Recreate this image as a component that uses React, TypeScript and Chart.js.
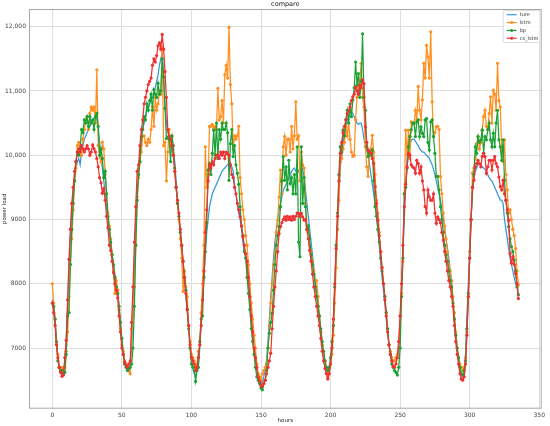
import { useEffect, useRef } from "react";
import { Chart, registerables } from "chart.js";

Chart.register(...registerables);

// ---- data (one value per half-hour step, 7 days x 48) ----
const ture = [
  7750,7600,7400,7100,6850,6700,6650,6600,6620,6800,7150,7650,8200,8750,9150,9450,9650,9800,9900,9950,9850,10050,10150,10250,10300,10350,10400,10450,10500,10550,10580,10600,10550,10400,10200,10000,9800,9600,9400,9200,9000,8800,8600,8450,8300,8150,8000,7850,
  7650,7350,7100,6950,6800,6700,6650,6630,6700,7000,7600,8300,9000,9400,9750,10000,10250,10400,10500,10600,10700,10750,10800,10850,10900,10950,11050,11150,11250,11400,11500,11600,11200,10800,10500,10350,10300,10250,10200,10050,9900,9600,9300,9050,8800,8550,8300,8050,
  7800,7550,7300,7050,6850,6700,6600,6580,6650,6750,7000,7500,7800,8100,8500,8800,9000,9200,9300,9400,9450,9500,9550,9600,9650,9700,9750,9780,9800,9830,9850,9870,9880,9820,9750,9550,9400,9250,9100,9000,8850,8650,8500,8450,8250,8000,7700,7400,
  7150,6950,6800,6650,6550,6480,6450,6480,6550,6700,6800,7100,7450,7800,8100,8400,8650,8850,9000,9150,9250,9350,9450,9500,9550,9600,9650,9700,9750,9780,9800,9750,9720,9750,9800,9820,9780,9650,9450,9250,9050,8850,8650,8450,8250,8050,7850,7650,
  7400,7200,7000,6850,6750,6650,6620,6650,6750,6950,7400,7900,8400,8900,9350,9800,10050,10200,10350,10450,10550,10600,10650,10680,10650,10600,10550,10500,10480,10500,10500,10400,10250,10150,10100,10000,9850,9700,9550,9400,9250,9050,8850,8600,8350,8100,7900,7700,
  7450,7250,7050,6950,6850,6800,6800,6820,6850,6950,7400,7950,8500,9000,9500,9950,10100,10180,10230,10250,10250,10220,10180,10150,10100,10080,10050,10050,10020,10000,9980,9950,9900,9850,9780,9700,9600,9500,9400,9300,9150,9000,8850,8700,8550,8400,8200,8000,
  7700,7400,7150,6950,6800,6650,6580,6550,6580,6900,7500,8000,8600,9050,9400,9650,9750,9800,9850,9870,9850,9820,9800,9780,9750,9700,9650,9620,9600,9550,9500,9450,9400,9350,9300,9300,9250,9000,8850,8700,8550,8400,8300,8200,8100,8000,7950,7900,
];

const lstm = [
  8000,7700,7450,7050,6900,6700,6650,6700,6650,6700,6950,7250,7800,8300,8700,9150,9600,9800,10150,10200,10100,10000,10250,10400,10550,10600,10400,10650,10750,10700,10750,10500,11330,10150,10050,9900,10200,10100,9700,9400,9100,8900,8700,8450,8200,7850,8050,7900,
  7600,7300,7050,6950,6800,6750,6700,6650,6600,7300,7500,7950,8600,9350,9650,9900,10050,10300,10300,10200,10150,10250,10200,10400,10750,10450,10900,10700,10800,11000,10950,11680,10150,10200,9600,10050,10400,10150,10300,10000,9750,9500,9250,9000,8700,8400,7880,8200,
  7950,7800,7350,7100,6900,6850,6800,6700,6750,6950,7050,7550,8000,8600,10130,9500,9700,10450,10450,10480,10420,10450,10400,11040,10550,10600,10850,10500,11250,11400,11200,11990,11100,10800,10100,10300,10250,10300,10450,9650,9400,9150,9000,8750,8600,8300,8000,7700,
  7450,7200,7000,6750,6600,6550,6500,6600,6650,6700,6750,7000,7350,7700,8000,8300,8470,8800,8990,9350,9770,9400,10130,10290,10000,10250,10250,10050,10450,10100,10300,10830,10250,10300,9600,10050,9850,9800,9250,8900,8800,8600,8500,8350,8200,8050,8050,7800,
  7500,7250,7050,6900,6800,6700,6550,6600,6750,6900,7200,7700,8250,8850,9300,9900,9950,10100,10200,10450,10300,10500,10250,10050,9980,10000,10550,10900,11050,11170,11430,10900,10750,10130,9820,9670,10050,10100,10310,10050,9700,9300,9100,8800,8500,8250,8000,7800,
  7550,7300,7050,6950,6850,6800,6800,6850,6900,7100,7500,7850,8350,9400,10390,10000,10390,9950,10520,10500,10490,10700,10550,11070,10700,10550,10860,11430,11200,11710,11530,11200,11920,10830,10290,10350,10440,10450,10400,9670,9400,9100,8900,8700,8500,8300,8200,8050,
  7800,7550,7250,7000,6850,6750,6700,6650,6700,6850,7250,7800,8500,9000,9720,9800,9950,10180,10290,10100,10200,10390,10600,10700,10450,10400,10650,10910,10500,11010,10950,10700,11430,10850,10750,10080,9900,10240,9700,9460,9100,9150,9000,8850,8750,8550,8200,7980,
];

const bp = [
  7700,7650,7450,7100,6800,6700,6650,6650,6600,6620,6900,7500,7550,8300,8850,9250,9600,9900,10050,10000,10100,10400,10350,10550,10500,10600,10450,10600,10500,10550,10400,10600,10650,10450,10000,10100,9950,9650,9750,9400,9050,8850,8650,8450,8300,8100,7950,7850,
  7650,7400,7150,6900,6750,6700,6650,6680,6700,6750,7000,7650,8600,9300,9700,9900,10290,10400,10600,10550,10800,10700,10850,10950,10700,11020,10950,10900,11120,10950,11000,11500,11220,10730,10260,10280,10250,9900,10300,10150,9800,9500,9250,9050,8800,8600,8350,8100,
  7900,7600,7300,7000,6750,6700,6650,6480,6650,6700,7100,7450,7500,8100,8500,8950,9770,9870,9700,10030,10390,10000,10500,9950,10400,10250,10500,10400,10400,10500,10350,9610,10180,10400,9980,10150,9850,9720,9550,9200,8900,8750,8500,8400,8100,7850,7600,7300,
  7100,6900,6700,6550,6500,6450,6380,6350,6450,6500,6650,7000,7230,7400,7540,7900,8300,8600,8750,8890,9200,9600,9980,9610,9820,9460,9920,9560,9650,9400,9700,9400,10130,8650,8420,10130,9250,9650,9200,8850,8900,8700,8450,8300,8150,7950,7800,7650,
  7500,7300,7100,6950,6800,6700,6650,6700,6850,7100,7350,7950,8600,9100,9700,10130,10050,10390,10300,10550,10700,10500,10800,10600,10860,11050,11450,11090,11270,10900,11150,11890,10900,10700,10130,9980,10050,10000,10080,9600,9200,9050,8850,8650,8400,8200,8000,7800,
  7550,7300,7050,6900,6750,6700,6650,6620,6580,6700,7000,7800,8400,9400,9500,9800,10130,10290,10400,10500,10500,10290,10520,10550,10290,10440,10340,10290,10550,10570,10200,10080,10520,10550,10290,10030,9670,9670,9460,9200,9000,8800,8600,8450,8350,8200,8050,7950,
  7700,7450,7200,7000,6850,6700,6600,6580,6650,6800,7300,7850,8400,9000,9500,9700,10130,10030,10290,10200,10240,10390,10030,10290,10240,10400,10500,10240,10130,10340,10130,10500,10700,10240,10130,9920,10240,9610,9300,9100,8890,8700,8580,8500,8370,8200,7950,7830,
];

const csLstm = [
  7700,7550,7350,7050,6850,6700,6620,6560,6580,6850,7120,7750,8380,8850,9250,9500,9750,9900,10050,10100,10050,10150,10100,10050,10100,10150,10100,10000,10050,10160,10100,10050,9950,9820,9650,9570,9410,9480,9300,9050,8870,8600,8520,8350,8170,8000,7900,7780,
  7500,7250,7000,6900,6780,6730,6700,6750,6800,7400,7950,8650,9200,9750,9850,10150,10400,10550,10800,10900,11000,11100,11150,11200,11400,11500,11450,11550,11700,11750,11650,11880,11650,11300,10900,10400,10300,10250,10150,10000,9750,9500,9300,9100,8850,8600,8350,8100,
  7850,7600,7350,7050,6850,6800,6750,6650,6700,6850,7050,7350,7750,8200,8800,9150,9600,9850,9800,9900,9850,9950,10000,10000,9950,10050,10000,10050,9950,10050,10020,10000,9850,9700,9650,9500,9400,9250,9150,9040,8900,8730,8600,8470,8350,8100,7800,7500,
  7250,7000,6850,6700,6550,6480,6420,6400,6450,6500,6600,6700,6800,6920,7300,7650,7950,8200,8500,8780,8890,8950,9000,9040,8990,9050,9000,9040,8990,9050,9000,9050,9100,9095,9050,9095,9040,8990,9000,8840,8700,8520,8350,8150,7950,7800,7650,7500,
  7350,7150,6950,6800,6680,6600,6520,6600,6750,7000,7450,8000,8550,9050,9600,10030,10200,10350,10450,10550,10650,10700,10750,10850,10910,10950,11060,11000,10950,11090,11050,11170,11115,10440,10200,10080,10060,10030,9950,9870,9510,9250,8990,8750,8500,8250,8000,7750,
  7500,7250,7050,6900,6800,6720,6700,6750,6850,7100,7500,8000,8600,9200,9550,9820,10030,10000,9850,9820,9800,9720,9920,9870,9720,9820,9600,9460,9200,9100,9460,9350,9300,9300,9400,9100,8940,9040,9000,8950,8800,8680,8500,8350,8200,8050,7950,7800,
  7650,7350,7100,6900,6750,6600,6520,6500,6550,6750,7200,7800,8400,9000,9500,9610,9820,9870,9920,9870,9820,9980,10030,9980,9720,9820,9920,9920,9770,9920,9980,9870,9820,9660,9510,9460,9610,9400,9300,9150,8990,8470,8320,8420,8300,8160,8000,7770,
];

const xTicks = [0, 50, 100, 150, 200, 250, 300, 350];
const yTicks = [7000, 8000, 9000, 10000, 11000, 12000];
const seriesNames = ["ture", "lstm", "bp", "cs_lstm"];
const seriesColors = ["#3399d9", "#ff8f1f", "#1ba234", "#ef3131"];
const chartTitle = "compare";
const xTitle = "hours";
const yTitle = "power load";

const FONT = "DejaVu Sans";

export default function App() {
  const ref = useRef<HTMLCanvasElement | null>(null);

  useEffect(() => {
    document.body.style.margin = "0";
    const canvas = ref.current;
    if (!canvas) return;

    const toPts = (arr: number[]) => arr.map((y, i) => ({ x: i, y }));
    const series = [ture, lstm, bp, csLstm];

    const overlay = {
      id: "overlay",
      afterDraw(chart: any) {
        const { ctx, chartArea: a } = chart;
        ctx.save();
        // frame
        ctx.strokeStyle = "#a8a8a8";
        ctx.lineWidth = 1;
        ctx.strokeRect(a.left + 0.5, a.top + 0.5, a.right - a.left - 1, a.bottom - a.top - 1);
        // titles
        ctx.fillStyle = "#222";
        ctx.textAlign = "center";
        ctx.textBaseline = "middle";
        const cx = (a.left + a.right) / 2;
        ctx.font = `6.5px "${FONT}"`;
        ctx.fillText(chartTitle, cx, 4.6);
        ctx.font = `5.5px "${FONT}"`;
        ctx.fillText(xTitle, cx, 420.5);
        ctx.save();
        ctx.translate(4.3, (a.top + a.bottom) / 2);
        ctx.rotate(-Math.PI / 2);
        ctx.fillText(yTitle, 0, 0);
        ctx.restore();
        // legend
        const lx = a.right - 38.5;
        const ly = a.top + 1.5;
        ctx.fillStyle = "rgba(255,255,255,0.85)";
        ctx.strokeStyle = "#d4d4d4";
        ctx.lineWidth = 0.8;
        ctx.beginPath();
        ctx.roundRect(lx, ly, 37, 32, 1.5);
        ctx.fill();
        ctx.stroke();
        seriesNames.forEach((name, k) => {
          const y = ly + 4.2 + k * 7.85;
          ctx.strokeStyle = seriesColors[k];
          ctx.lineWidth = 1.2;
          ctx.beginPath();
          ctx.moveTo(lx + 3.5, y);
          ctx.lineTo(lx + 13.5, y);
          ctx.stroke();
          if (k > 0) {
            ctx.fillStyle = seriesColors[k];
            ctx.beginPath();
            ctx.arc(lx + 8.5, y, 1.5, 0, Math.PI * 2);
            ctx.fill();
          }
          ctx.fillStyle = "#333";
          ctx.textAlign = "left";
          ctx.font = `5px "${FONT}"`;
          ctx.fillText(name, lx + 16.5, y);
        });
        ctx.restore();
      },
    };

    const chart = new Chart(canvas, {
      type: "line",
      data: {
        datasets: series.map((arr, k) => ({
          label: seriesNames[k],
          data: toPts(arr),
          borderColor: seriesColors[k],
          backgroundColor: seriesColors[k],
          borderWidth: 1.25,
          pointRadius: k === 0 ? 0 : 1.6,
          pointBorderWidth: 0,
          pointBackgroundColor: seriesColors[k],
          tension: 0,
          fill: false,
          order: 4 - k,
        })),
      },
      options: {
        animation: false,
        responsive: false,
        devicePixelRatio: 1,
        layout: { padding: { top: 9, right: 8.3, left: 0, bottom: 0 } },
        plugins: {
          legend: { display: false },
          title: { display: false },
          tooltip: { enabled: false },
        },
        scales: {
          x: {
            type: "linear",
            min: -16.75,
            max: 351.75,
            afterBuildTicks: (s: any) => {
              s.ticks = xTicks.map((v) => ({ value: v }));
            },
            afterFit: (s: any) => {
              s.height = 17.3;
            },
            ticks: {
              font: { family: FONT, size: 6 },
              color: "#444",
              padding: 3,
              maxRotation: 0,
              autoSkip: false,
            },
            grid: { color: "#dedede", lineWidth: 1, drawTicks: false },
            border: { display: false },
          },
          y: {
            type: "linear",
            min: 6056,
            max: 12275,
            afterBuildTicks: (s: any) => {
              s.ticks = yTicks.map((v) => ({ value: v }));
            },
            afterFit: (s: any) => {
              s.width = 29;
            },
            ticks: {
              font: { family: FONT, size: 6 },
              color: "#444",
              padding: 3,
              autoSkip: false,
              callback: (v: any) => (Number(v) >= 10000 ? Number(v).toLocaleString("en-US") : String(v)),
            },
            grid: { color: "#dedede", lineWidth: 1, drawTicks: false },
            border: { display: false },
          },
        },
      },
      plugins: [overlay],
    });

    return () => chart.destroy();
  }, []);

  return <canvas ref={ref} width={550} height={426} style={{ display: "block", width: 550, height: 426 }} />;
}
